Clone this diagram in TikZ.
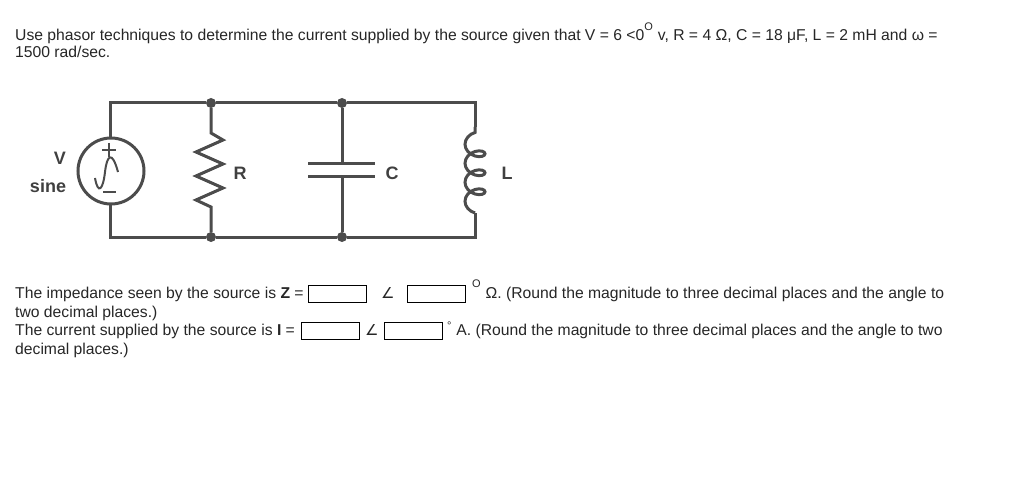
\documentclass[tikz,border=0pt]{standalone}
\usepackage{fontspec}
\setmainfont{Liberation Sans}
\newfontfamily\dejavu{DejaVu Sans}
\usetikzlibrary{decorations.pathmorphing}
\begin{document}
\begin{tikzpicture}[x=1pt,y=-1pt,
  wire/.style={line width=3pt,draw=black!70},
  dot/.style={circle,fill=black!70,inner sep=0pt,minimum size=10pt},
  txt/.style={anchor=base west,inner sep=0pt,font=\fontsize{15.7}{18}\selectfont,text=black!85},
  lbl/.style={inner sep=0pt,font=\fontsize{18}{20}\selectfont\bfseries,text=black!75},
  ans/.style={draw=black,line width=1pt,minimum width=58pt,minimum height=17pt,inner sep=0pt}]
\useasboundingbox (0,0) rectangle (1033,481);
\node[txt] (t1) at (15,41) {Use phasor techniques to determine the current supplied by the source given that V = 6 <0\raisebox{0.6ex}{\textsuperscript{O}} v, R = 4 Ω, C = 18 μF, L = 2 mH and ω =};
\node[txt] (t2) at (15,58) {1500 rad/sec.};
% circuit
\coordinate (tl) at (110,103); \coordinate (bl) at (110,237);
\node[dot] (rt) at (211,103) {}; \node[dot] (rb) at (211,237) {};
\node[dot] (ct) at (342,103) {}; \node[dot] (cb) at (342,237) {};
\coordinate (tr) at (475,103); \coordinate (br) at (475,237);
\node[circle,wire,minimum size=66pt,inner sep=0pt] (src) at (111,171) {};
\draw[wire] (110,138) -- (tl) -- (rt) -- (ct) -- (tr) -- (475,127);
\draw[wire] (110,204) -- (bl) -- (rb) -- (cb) -- (br) -- (475,213);
\draw[wire,line width=2pt] (102,150) -- (116,150) (109,143) -- (109,157);
\draw[wire,line width=2pt] (103,192) -- (116,192);
\draw[wire,line width=2pt] (95,178) .. controls (98,195) and (103,190) .. (105,172) .. controls (107,155) and (112,150) .. (118,172);
% resistor
\draw[wire,line join=miter] (rt) -- (211,133) -- (223,140) -- (196,152) -- (223,164) -- (196,176) -- (223,188) -- (196,200) -- (211,207) -- (rb);
\node[lbl] (R) at (240,173) {R};
% capacitor
\draw[wire] (ct) -- (342,164) (308,164) -- (375,164) (308,177) -- (375,177) (342,177) -- (cb);
\node[lbl] (C) at (392,173) {C};
% inductor
\draw[wire,decorate,decoration={coil,aspect=0.7,segment length=19pt,amplitude=10pt}] (475,213) -- (475,127);
\node[lbl] (L) at (507,173) {L};
\node[lbl] (V) at (60,158) {V};
\node[lbl] (S) at (48,186) {sine};
% answers
\node[txt] (a1) at (15,298) {The impedance seen by the source is \textbf{Z} =};
\node[ans] (b1) at (337,294) {};
\node[txt,font=\fontsize{15}{15}\selectfont\dejavu\color{black!60}] (g1) at (381,298) {∠};
\node[ans] (b2) at (436,294) {};
\node[txt] (a1b) at (472,298) {\raisebox{0.6ex}{\textsuperscript{O}} Ω. (Round the magnitude to three decimal places and the angle to};
\node[txt] (a2) at (15,317) {two decimal places.)};
\node[txt] (a3) at (15,335) {The current supplied by the source is \textbf{I} =};
\node[ans] (b3) at (330,331) {};
\node[txt,font=\fontsize{15}{15}\selectfont\dejavu\color{black!60}] (g2) at (365,335) {∠};
\node[ans] (b4) at (413,331) {};
\node[txt] (a3b) at (447,335) {\textsuperscript{°} A. (Round the magnitude to three decimal places and the angle to two};
\node[txt] (a4) at (15,354) {decimal places.)};
\end{tikzpicture}
\end{document}
